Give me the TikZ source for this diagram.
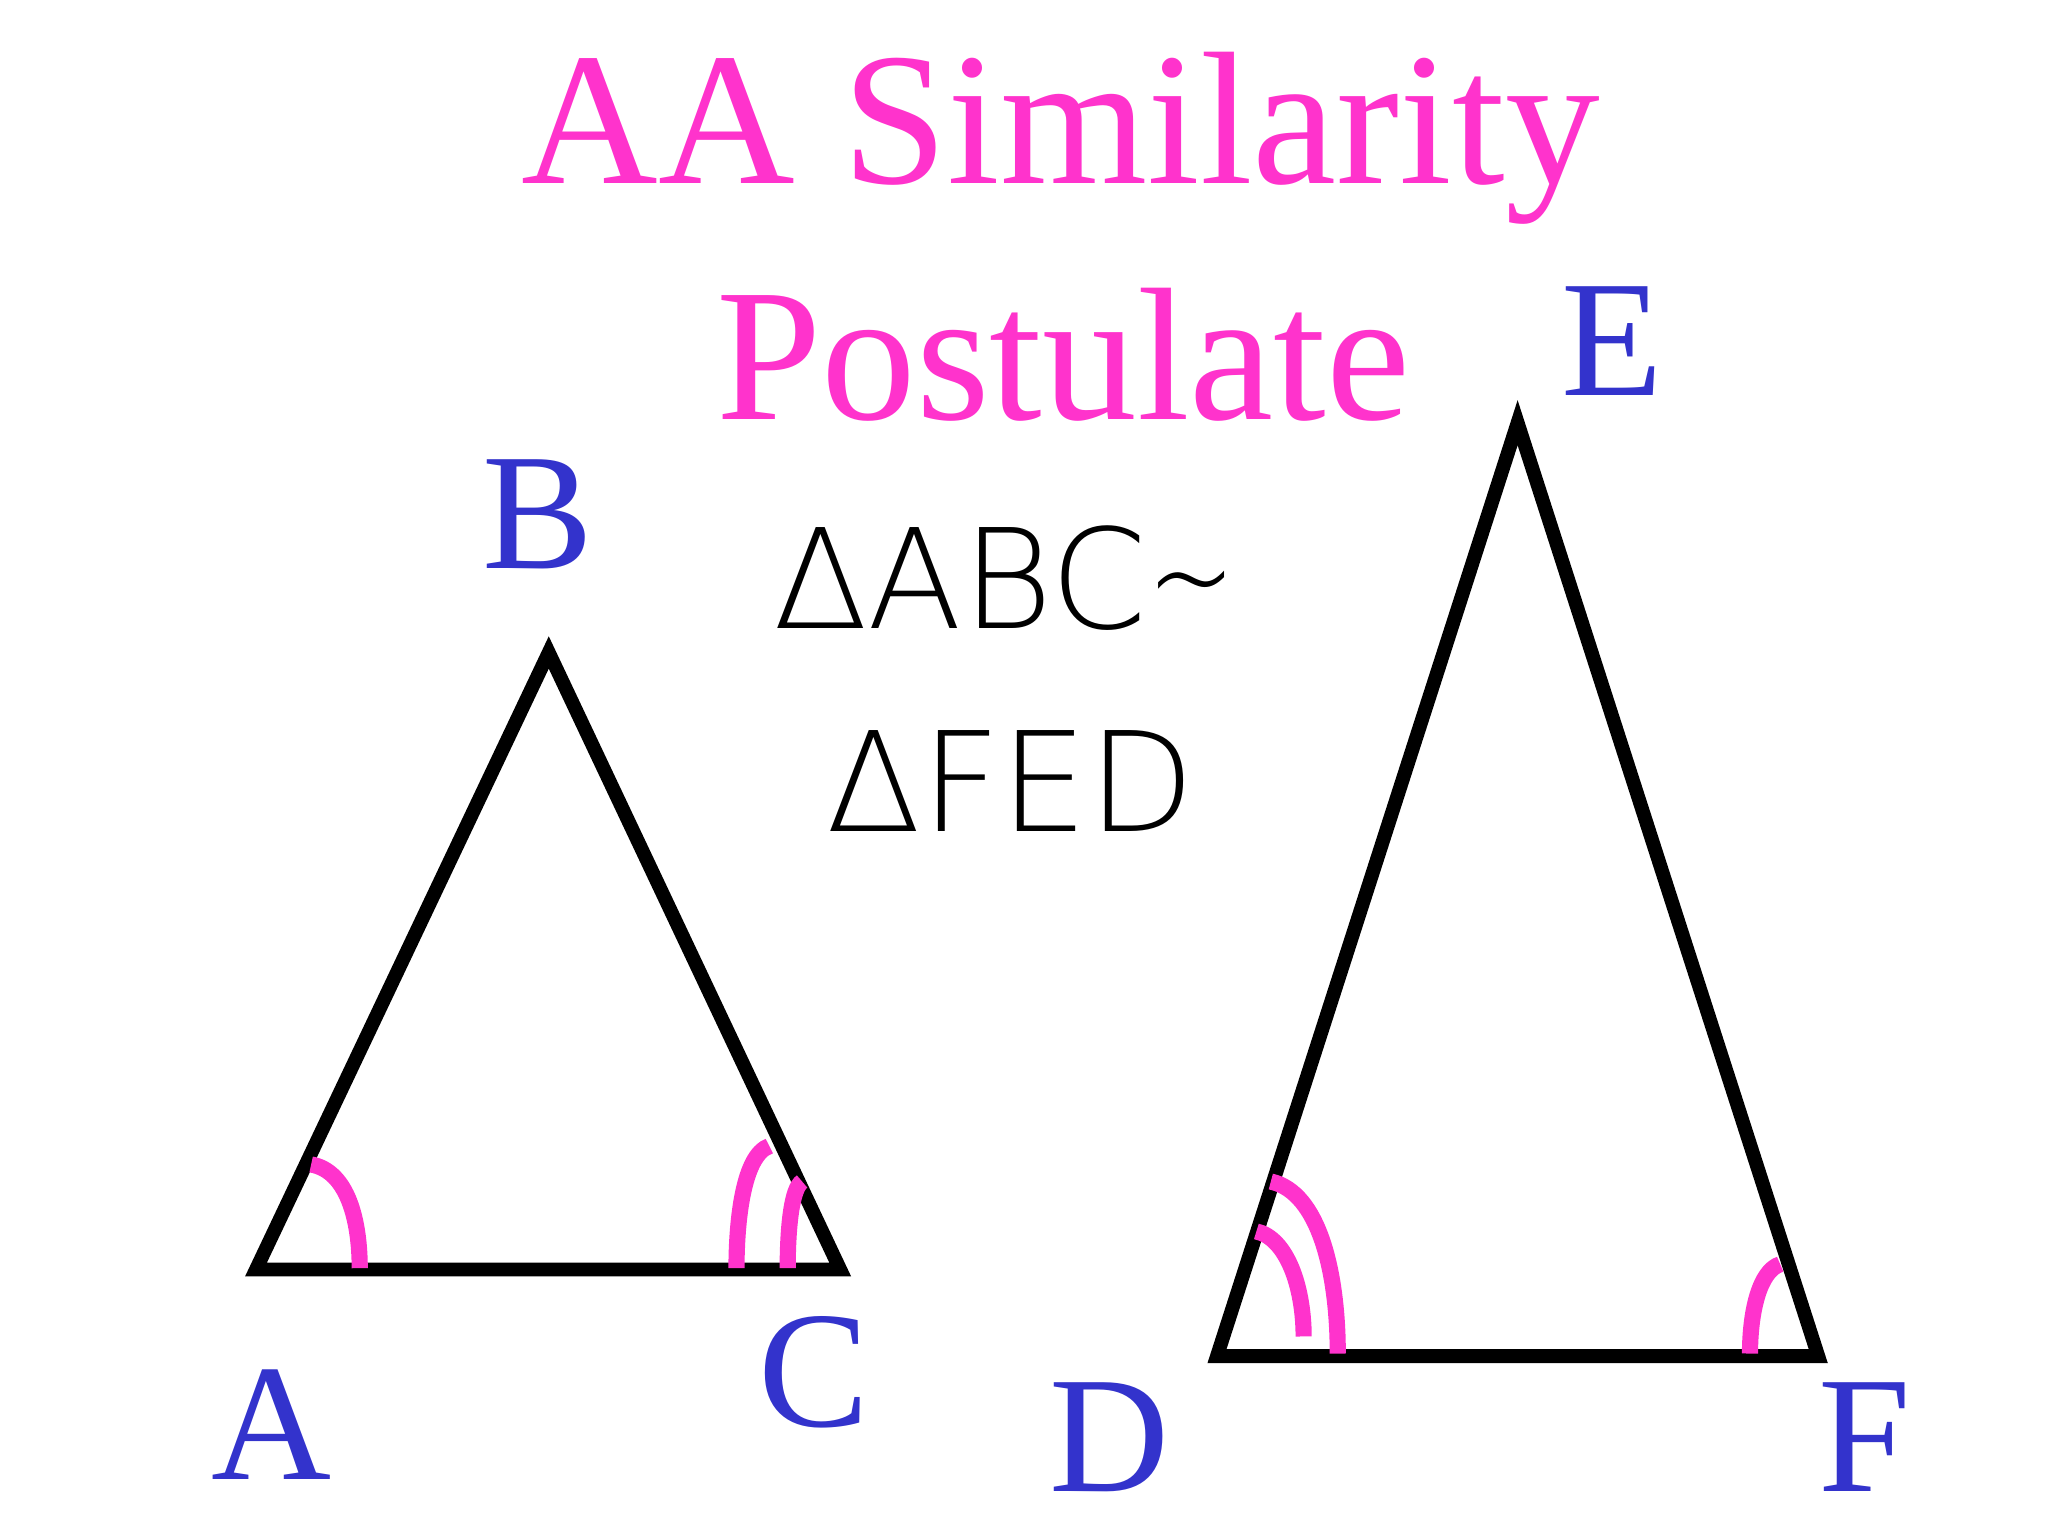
\documentclass[tikz,border=0pt]{standalone}
\usepackage{fontspec}
\setmainfont{Liberation Serif}
\newfontfamily\hand{DejaVu Sans ExtraLight}
\definecolor{pk}{HTML}{FF33CC}
\definecolor{bl}{HTML}{3333CC}
\begin{document}
\begin{tikzpicture}[x=0.01cm,y=-0.01cm]
\tikzset{
 arcm/.style={draw=pk,line width=3.5pt},
 lab/.style={text=bl,font=\fontsize{36}{40}\selectfont,inner sep=0pt},
 ttl/.style={text=pk,font=\fontsize{41}{48}\selectfont,inner sep=0pt},
 hw/.style={font=\hand\fontsize{30}{34}\selectfont,inner sep=0pt}}
\useasboundingbox (0,0) rectangle (1560,1170);
\node[ttl] (t1) at (808,105) {AA Similarity};
\node[ttl] (t2) at (810,270) {Postulate};
\coordinate (A) at (195,967); \coordinate (B) at (418,497); \coordinate (C) at (640,967);
\coordinate (D) at (927,1033); \coordinate (E) at (1156,322); \coordinate (F) at (1385,1033);
\draw[line width=3pt] (A)--(B)--(C)--cycle;
\draw[line width=3pt] (D)--(E)--(F)--cycle;
\draw[arcm] (237,887) .. controls (265,892) and (274,930) .. (274,966);
\draw[arcm] (586,873) .. controls (566,880) and (561,930) .. (561,966);
\draw[arcm] (611,900) .. controls (603,905) and (600,935) .. (600,966);
\draw[arcm] (957,938) .. controls (980,943) and (993,980) .. (993,1018);
\draw[arcm] (968,900) .. controls (1005,908) and (1019,970) .. (1019,1031);
\draw[arcm] (1356,963) .. controls (1340,968) and (1333,1000) .. (1333,1031);
\node[lab] (lA) at (207,1085) {A};
\node[lab] (lB) at (410,392) {B};
\node[lab] (lC) at (620,1045) {C};
\node[lab] (lD) at (845,1095) {D};
\node[lab] (lE) at (1228,260) {E};
\node[lab] (lF) at (1420,1095) {F};
\node[hw] (h1) at (765,440) {ΔABC∼};
\node[hw] (h2) at (770,595) {ΔFED};
\end{tikzpicture}
\end{document}
